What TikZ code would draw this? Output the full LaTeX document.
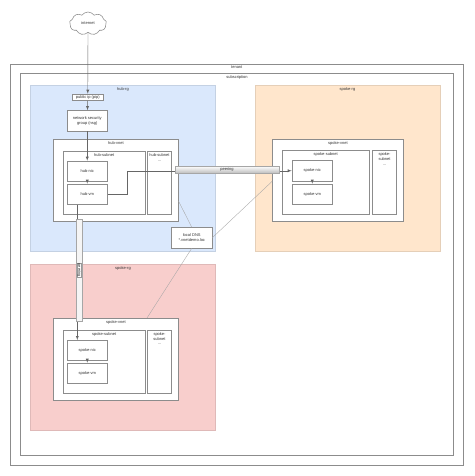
\documentclass[tikz,border=0pt]{standalone}
\usepackage{fontspec}
\setmainfont{Liberation Sans}
\usetikzlibrary{shapes.symbols,shadings}
\definecolor{hubblue}{HTML}{DAE8FC}
\definecolor{spokeorange}{HTML}{FFE6CC}
\definecolor{spokered}{HTML}{F8CECC}
\tikzset{
  box/.style={draw=black!45,line width=0.55pt,fill=white,inner sep=0pt,font=\fontsize{4}{4.8}\selectfont,text=black!80,align=center},
  toptext/.style={anchor=north,inner sep=0pt,yshift=-2.4pt,font=\fontsize{4}{4.8}\selectfont,text=black!80,align=center},
  rg/.style={line width=0.4pt,inner sep=0pt},
  conn/.style={draw=black!60,line width=0.4pt},
  dnsline/.style={draw=black!35,line width=0.35pt},
  peer/.style={draw=black!35,line width=0.5pt,inner sep=0pt,font=\fontsize{4}{4.8}\selectfont,text=black!80}
}
\begin{document}
\begin{tikzpicture}[x=1pt,y=-1pt,>=latex]
  \useasboundingbox (0,0) rectangle (474,476);
  % frames
  \node[box,minimum width=453.5pt,minimum height=401.5pt,label={[toptext]90:tenant}] (tenant) at (236.75,264.75) {};
  \node[box,minimum width=433pt,minimum height=381.5pt,label={[toptext]90:subscription}] (subscription) at (237,264.5) {};
  % resource groups
  \node[rg,draw=hubblue!90!black,fill=hubblue,minimum width=185pt,minimum height=166.5pt,label={[toptext]90:hub-rg}] (hubrg) at (123,168.25) {};
  \node[rg,draw=spokeorange!90!black,fill=spokeorange,minimum width=185pt,minimum height=166.5pt,label={[toptext]90:spoke-rg}] (spokerg) at (347.5,168.25) {};
  \node[rg,draw=spokered!90!black,fill=spokered,minimum width=185pt,minimum height=166pt,label={[toptext]90:spoke-rg}] (redrg) at (123,347.5) {};
  % hub
  \node[box,minimum width=125pt,minimum height=82pt,label={[toptext]90:hub-vnet}] (hubvnet) at (116,180.5) {};
  \node[box,minimum width=81.5pt,minimum height=63.5pt,label={[toptext]90:hub-subnet}] (hubsubnet) at (104.25,182.75) {};
  \node[box,minimum width=24pt,minimum height=63.5pt,label={[toptext]90:hub-subnet\\...}] (hubsubnettwo) at (159.5,182.75) {};
  \node[box,minimum width=30.5pt,minimum height=6.5pt] (publicip) at (87.75,97.25) {public ip (pip)};
  \node[box,minimum width=40.5pt,minimum height=20.5pt] (nsg) at (87.25,120.75) {network security\\group (nsg)};
  \node[box,minimum width=40.5pt,minimum height=20pt] (hubnic) at (87.25,171) {hub-nic};
  \node[box,minimum width=40.5pt,minimum height=20.5pt] (hubvm) at (87.25,194.25) {hub-vm};
  % spoke, top right
  \node[box,minimum width=131pt,minimum height=82.5pt,label={[toptext]90:spoke-vnet}] (spokevnet) at (338,180.25) {};
  \node[box,minimum width=87.5pt,minimum height=64pt,label={[toptext]90:spoke-subnet}] (spokesubnet) at (325.75,182.5) {};
  \node[box,minimum width=24pt,minimum height=64pt,label={[toptext]90:spoke-\\subnet\\...}] (spokesubnettwo) at (384.5,182.5) {};
  \node[box,minimum width=40.5pt,minimum height=20.5pt] (spokenic) at (312.25,170.75) {spoke-nic};
  \node[box,minimum width=40.5pt,minimum height=20.5pt] (spokevm) at (312.25,194.25) {spoke-vm};
  % spoke, bottom
  \node[box,minimum width=125pt,minimum height=82.5pt,label={[toptext]90:spoke-vnet}] (redvnet) at (116,359.25) {};
  \node[box,minimum width=81.5pt,minimum height=63.5pt,label={[toptext]90:spoke-subnet}] (redsubnet) at (104.25,361.75) {};
  \node[box,minimum width=24pt,minimum height=63.5pt,label={[toptext]90:spoke-\\subnet\\...}] (redsubnettwo) at (159.5,361.75) {};
  \node[box,minimum width=40.5pt,minimum height=20.5pt] (rednic) at (87.25,350.25) {spoke-nic};
  \node[box,minimum width=40.5pt,minimum height=20.5pt] (redvm) at (87.25,373.25) {spoke-vm};
  % dns and cloud
  \node[box,minimum width=40.5pt,minimum height=20.5pt] (dns) at (191.75,237.75) {local DNS\\*.vnetdemo.loc};
  \node[box,cloud,cloud puffs=9,cloud puff arc=110,aspect=1.6,minimum width=37pt,minimum height=23pt] (internet) at (88,23.5) {internet};
  % free ends
  \coordinate (dnshub) at (178.5,201);
  \coordinate (dnsspoke) at (272.5,181);
  \coordinate (dnsred) at (147,318);
  \coordinate (bend) at (127.5,170.75);
  \coordinate (vmout) at (77.3,204.5);
  \coordinate (nicin) at (77.3,340);
  % connectors
  \draw[conn,->] (internet.south) -- (publicip.north);
  \draw[conn,->] (publicip) -- (nsg);
  \draw[conn,->] (nsg) -- (hubnic);
  \draw[conn,->] (hubnic) -- (hubvm);
  \draw[conn,->] (spokenic) -- (spokevm);
  \draw[conn,->] (rednic) -- (redvm);
  \draw[conn,->] (hubvm.east) -| (bend) -- (spokenic.west);
  \draw[conn,->] (vmout) -- (nicin);
  \draw[dnsline] (dnshub) -- (dns.north);
  \draw[dnsline] (dns.east) -- (dnsspoke);
  \draw[dnsline] (dns.south) -- (dnsred);
  % peerings
  \node[peer,top color=white,bottom color=black!25,minimum width=103.5pt,minimum height=7pt] (peerh) at (227,169.5) {peering};
  \node[peer,fill=black!4,minimum width=6.5pt,minimum height=102.5pt] (peerv) at (79.25,270.25) {};
  \node[draw=black!40,line width=0.3pt,fill=white,inner sep=0.3pt,rotate=-90,text=black!80,font=\fontsize{4}{4.8}\selectfont] (peerlabel) at (peerv) {peering};
\end{tikzpicture}
\end{document}
